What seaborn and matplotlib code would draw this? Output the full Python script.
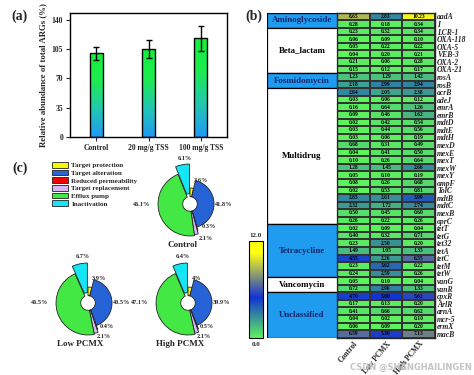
import numpy as np
import pandas as pd
import matplotlib
matplotlib.use('Agg')
import matplotlib.pyplot as plt
from matplotlib.colors import LinearSegmentedColormap
import seaborn as sns

# ---- (a) total ARGs ----
treatments = ['Control', '20 mg/g TSS', '100 mg/g TSS']
abundance = [100, 105, 118]
abundance_err = [8, 11, 15]

# ---- (b) ARG subtypes ----
classes = ['Aminoglycoside', 'Beta_lactam', 'Fosmidomycin', 'Multidrug',
           'Tetracycline', 'Vancomycin', 'Unclassified']
class_sizes = [2, 6, 2, 18, 7, 2, 6]
genes = ['aadA', 'I', 'LCR-1', 'OXA-118', 'OXA-5', 'VEB-3', 'OXA-2', 'OXA-21',
         'rosA', 'rosB',
         'acrB', 'adeJ', 'emrA', 'emrB', 'mdtD', 'mdtE', 'mdtH', 'mexD', 'mexE',
         'mexT', 'mexW', 'mexY', 'ompF', 'TolC', 'mdtB', 'mdtC', 'mexB', 'oprC',
         'tetT', 'tetG', 'tet32', 'tetA', 'tetC', 'tetM', 'tetW',
         'vanG', 'vanR',
         'cpxR', 'ArlR', 'arnA', 'mcr-5', 'ermX', 'macB']
conditions = ['Control', 'Low PCMX', 'High PCMX']
control = [8.65, 0.28, 0.23, 0.06, 0.05, 0.04, 0.21, 0.15,
           1.23, 2.18,
           2.84, 0.03, 0.16, 0.09, 0.02, 0.03, 0.03, 0.68, 0.04,
           0.10, 1.28, 0.05, 0.08, 0.02, 2.85, 2.32, 0.50, 0.26,
           0.02, 0.40, 0.23, 1.49, 4.55, 0.23, 0.24,
           0.05, 0.72,
           4.70, 0.17, 0.41, 0.04, 0.06, 6.59]
low_pcmx = [2.83, 0.18, 0.32, 0.09, 0.22, 0.20, 0.06, 0.12,
            1.29, 2.99,
            2.05, 0.06, 0.64, 0.46, 0.42, 0.44, 0.06, 0.31, 0.41,
            0.26, 1.45, 0.10, 0.26, 0.53, 2.61, 1.72, 0.45, 0.22,
            0.09, 0.32, 2.50, 1.05, 2.26, 3.62, 2.59,
            0.10, 2.96,
            5.00, 0.13, 0.66, 0.02, 0.09, 5.30]
high_pcmx = [10.23, 0.34, 0.34, 0.10, 0.22, 0.21, 0.28, 0.17,
             1.42, 2.94,
             2.38, 0.12, 1.26, 1.62, 0.54, 0.56, 0.19, 0.49, 0.50,
             0.64, 2.66, 0.19, 0.68, 0.81, 3.99, 2.74, 0.60, 0.26,
             0.04, 0.71, 0.20, 1.35, 6.55, 0.22, 0.26,
             0.04, 1.33,
             5.62, 0.20, 0.62, 0.10, 0.20, 7.13]

# ---- (c) resistance mechanisms (%) ----
mechanisms = ['Target protection', 'Target alteration', 'Reduced permeability',
              'Target replacement', 'Efflux pump', 'Inactivation']
mech_control = [3.6, 41.8, 0.3, 2.1, 46.1, 6.1]
mech_low = [3.9, 40.5, 0.4, 2.1, 46.5, 6.7]
mech_high = [4.0, 39.9, 0.5, 2.1, 47.1, 6.4]

# ---- styles ----
W, H = 474, 375
SERIF = ['Liberation Serif', 'DejaVu Serif']
mech_colors = ['#F8F800', '#2563D6', '#F00000', '#D9B8F5', '#44E844', '#14E6F5']
wedge_radius = [16, 24, 28, 31, 32, 37]
wedge_explode = [0, 0, 0, 0, 0, 3]
hole = 7.3
label_offsets = [(4, 24, 'left'), (25, 0, 'left'), (12, -23, 'left'),
                 (9, -34, 'left'), (-40, 0, 'right'), (-5, 46, 'center')]

sns.set_style('white')
plt.rcParams['font.family'] = SERIF
plt.rcParams['font.weight'] = 'bold'

fig = plt.figure(figsize=(W / 100, H / 100), dpi=100)


def box(x0, y0, x1, y1):
    return [x0 / W, 1 - y1 / H, (x1 - x0) / W, (y1 - y0) / H]


# ================= (a) =================
ax = fig.add_axes(box(70, 13, 227, 137))
sns.barplot(x=treatments, y=abundance, ax=ax, width=0.25, color='white',
            edgecolor='black', linewidth=1.0, errorbar=None)
ax.errorbar(x=np.arange(len(treatments)), y=abundance, yerr=abundance_err,
            fmt='none', ecolor='black', elinewidth=1.0, capsize=2, capthick=1.0, zorder=5)
grad_cmap = LinearSegmentedColormap.from_list('g', ['#1E9AF5', '#22C8B0', '#1EEB50', '#14F03C'])
grad = np.linspace(1, 0, 100).reshape(-1, 1)
for p in ax.patches:
    x0, w, h = p.get_x(), p.get_width(), p.get_height()
    im = ax.imshow(grad, extent=[x0, x0 + w, 0, h], aspect='auto', cmap=grad_cmap,
                   vmin=0, vmax=1, zorder=1)
    im.set_clip_path(p)
    p.set_facecolor('none')
    p.set_zorder(3)
ax.set_xlim(-0.5, 2.5)
ax.set_ylim(0, 148)
ax.set_yticks([0, 35, 70, 105, 140])
ax.set_ylabel('Relative abundance of total ARGs (%)', fontsize=6.3, fontweight='bold', labelpad=3)
ax.tick_params(direction='out', length=3, width=0.8, labelsize=5.5, pad=2, left=True, bottom=True)
for s in ax.spines.values():
    s.set_linewidth(1.0)
    s.set_color('black')
for t in ax.get_xticklabels() + ax.get_yticklabels():
    t.set_fontweight('bold')

# ================= (b) =================
df = pd.DataFrame({'Control': control, 'Low PCMX': low_pcmx, 'High PCMX': high_pcmx},
                  index=genes)
heat_cmap = LinearSegmentedColormap.from_list(
    'h', [(0.0, '#5EF25E'), (0.42, '#1232D2'), (0.88, '#FFFF12'), (1.0, '#FFFF00')])
ax_hm = fig.add_axes(box(337, 12.7, 435, 337.7))
ax_cb = fig.add_axes(box(249, 241, 263, 338))
sns.heatmap(df, ax=ax_hm, cmap=heat_cmap, vmin=0, vmax=12, annot=True, fmt='.2f',
            annot_kws=dict(size=4, weight='bold', color='black'),
            linewidths=0.3, linecolor='#333333', cbar_ax=ax_cb)
ax_hm.yaxis.tick_right()
ax_hm.set_yticks(np.arange(len(genes)) + 0.5)
ax_hm.set_yticklabels(genes, rotation=0, fontsize=5.5, fontstyle='italic', fontweight='bold')
ax_hm.set_xticks(np.arange(len(conditions)) + 0.5)
ax_hm.set_xticklabels(conditions, rotation=50, ha='right', rotation_mode='anchor',
                      fontsize=5.5, fontweight='bold')
ax_hm.tick_params(length=0, pad=1.5)
ax_hm.set_xlabel('')
ax_hm.set_ylabel('')
for s in ax_hm.spines.values():
    s.set_visible(True)
    s.set_linewidth(1.0)

cb = ax_hm.collections[0].colorbar
cb.set_ticks([])
cb.outline.set_linewidth(0.8)
cb.outline.set_edgecolor('black')
fig.text(256 / W, 1 - 235 / H, '12.0', fontsize=5, fontweight='bold', ha='center', va='center')
fig.text(256 / W, 1 - 344 / H, '0.0', fontsize=5, fontweight='bold', ha='center', va='center')

ax_cat = fig.add_axes(box(267, 12.7, 337, 337.7))
tops = np.cumsum([0] + class_sizes[:-1])
centers = tops + np.array(class_sizes) / 2
fills = ['#1F9BF0' if i % 2 == 0 else 'white' for i in range(len(classes))]
ax_cat.barh(centers, [1] * len(classes), height=class_sizes, left=0, color=fills,
            edgecolor='black', linewidth=0.9)
for c, y, f in zip(classes, centers, fills):
    ax_cat.text(0.5, y, c, ha='center', va='center', fontsize=6.4, fontweight='bold',
                color='#14266A' if f != 'white' else 'black')
ax_cat.set_xlim(0, 1)
ax_cat.set_ylim(sum(class_sizes), 0)
ax_cat.axis('off')

# ================= (c) =================
pies = [('Control', mech_control, (190, 204)),
        ('Low PCMX', mech_low, (88, 303)),
        ('High PCMX', mech_high, (188, 303))]
for title, vals, (cx, cy) in pies:
    axp = fig.add_axes(box(cx - 60, cy - 50, cx + 60, cy + 50))
    wedges, _ = axp.pie(vals, colors=mech_colors, startangle=90, counterclock=False,
                        explode=wedge_explode, radius=1,
                        wedgeprops=dict(edgecolor='#222222', linewidth=0.6))
    for w, r in zip(wedges, wedge_radius):
        w.set_radius(r)
        w.set_width(r - hole)
    for v, (dx, dy, ha) in zip(vals, label_offsets):
        axp.text(dx, dy, '{:g}%'.format(v), ha=ha, va='center', fontsize=4.5, fontweight='bold')
    axp.text(-8, -41, title, ha='center', va='center', fontsize=6.5, fontweight='bold')
    axp.set_xlim(-60, 60)
    axp.set_ylim(-50, 50)
    axp.set_aspect('equal')
    axp.axis('off')
    if title == 'Control':
        handles = wedges

fig.legend(handles, mechanisms, loc='upper left', bbox_to_anchor=(52 / W, 1 - 162 / H),
           frameon=False, handlelength=2.3, handleheight=0.9,
           labelspacing=0.2, borderpad=0, borderaxespad=0, handletextpad=0.5,
           prop=dict(family=SERIF, weight='bold', size=5))

# panel letters
for lbl, x, y in [('(a)', 20, 16), ('(b)', 254, 16), ('(c)', 20, 168)]:
    fig.text(x / W, 1 - y / H, lbl, fontsize=10, fontweight='bold', ha='center', va='center')

fig.text(472 / W, 1 - 367 / H, 'CSDN @SHANGHAILINGEN', fontsize=6, color='#c4c4c4',
         family='DejaVu Sans', ha='right', va='center')

fig.savefig('out.png', dpi=100)
